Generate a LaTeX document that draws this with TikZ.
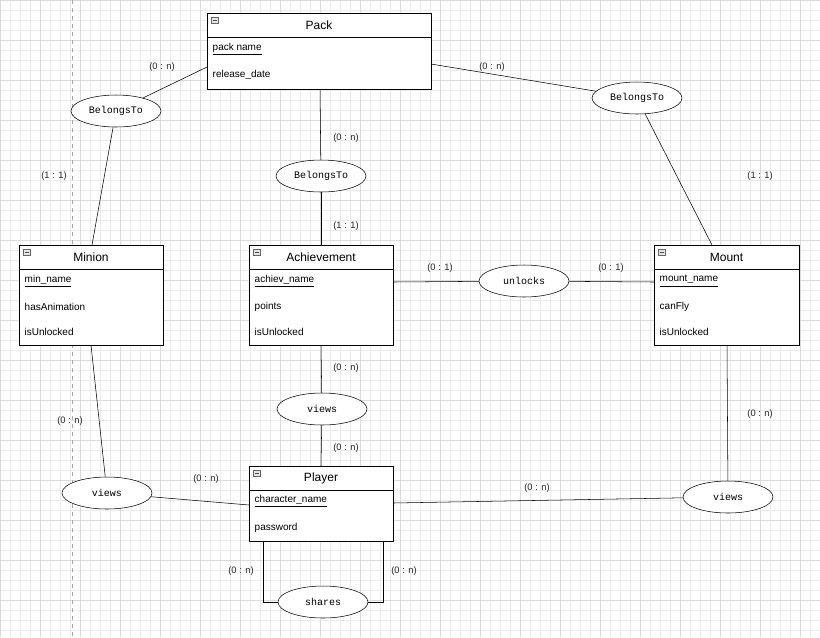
\documentclass[tikz,border=0pt]{standalone}
\usepackage{fontspec}
\setmainfont{Liberation Sans}
\newfontfamily\erdmono{Liberation Mono}
\usetikzlibrary{shapes.geometric}
\begin{document}
\begin{tikzpicture}[x=0.75pt,y=-0.75pt,
  rel/.style={ellipse,draw,thin,fill=white,minimum width=67.5pt,minimum height=24pt,inner sep=0pt,font=\erdmono\fontsize{7.5}{8}\selectfont},
  card/.style={font=\fontsize{7}{8}\selectfont,text=black!85},
  attr/.style={anchor=west,font=\fontsize{7.5}{9}\selectfont},
  link/.style={draw,thin}]
% background
\fill[white] (0,0) rectangle (820,637);
\useasboundingbox (0,0) rectangle (820,637);
\foreach \x in {0,10,...,820} \draw[black!8,very thin] (\x,0) -- (\x,637);
\foreach \y in {0,10,...,630} \draw[black!8,very thin] (0,\y) -- (820,\y);
\foreach \x in {0,40,...,820} \draw[black!14,very thin] (\x,0) -- (\x,637);
\foreach \y in {0,40,...,630} \draw[black!14,very thin] (0,\y) -- (820,\y);
\draw[black!35,dashed] (72,0) -- (72,637);
% entity macro: name, left, top, right, bottom, title
\newcommand{\erdent}[6]{%
  \draw[fill=white,thin] (#2,#3) rectangle (#4,#5);
  \node[draw=none,inner sep=0pt,minimum width=#4pt-#2pt] (#1) at ({(#2+#4)/2},{(#3+#5)/2}) {};
  \draw[thin] (#2,#3+24) -- (#4,#3+24);
  \draw[black!60,fill=black!10,very thin] (#2+4,#3+4) rectangle (#2+11,#3+10);
  \draw[black!70] (#2+5.5,#3+7) -- (#2+9.5,#3+7);
  \node[font=\fontsize{9}{10}\selectfont] (#1-t) at ({(#2+#4)/2},#3+12) {#6};}
% entities
\erdent{pack}{207}{13}{431}{89}{Pack}
\node[attr] (pack-a) at (208,49) {\underline{pack name}};
\node[attr] (pack-b) at (208,75) {release\_date};
\erdent{minion}{19}{245}{163}{345}{Minion}
\node[attr] (min-a) at (20,281) {\underline{min\_name}};
\node[attr] (min-b) at (20,307) {hasAnimation};
\node[attr] (min-c) at (20,332) {isUnlocked};
\erdent{ach}{249}{245}{393}{345}{Achievement}
\node[attr] (ach-a) at (250,281) {\underline{achiev\_name}};
\node[attr] (ach-b) at (250,307) {points};
\node[attr] (ach-c) at (250,332) {isUnlocked};
\erdent{mount}{654}{245}{799}{345}{Mount}
\node[attr] (mnt-a) at (655,281) {\underline{mount\_name}};
\node[attr] (mnt-b) at (655,307) {canFly};
\node[attr] (mnt-c) at (655,332) {isUnlocked};
% relationships
\node[rel] (bl) at (116,111) {BelongsTo};
\node[rel] (bm) at (321,176) {BelongsTo};
\node[rel] (br) at (637,98) {BelongsTo};
\node[rel] (unl) at (524,281) {unlocks};
\node[rel] (vm) at (322,409) {views};
\node[rel] (vl) at (107,493) {views};
\node[rel] (vr) at (728,497) {views};
\node[rel] (sh) at (323,602) {shares};
% connectors
\begin{scope}[on background layer/.style={}]
\coordinate (packL) at (207,67);
\coordinate (packR) at (431,64);
\coordinate (packB) at (320,89);
\coordinate (minT) at (92,245);
\coordinate (minB) at (91,345);
\coordinate (achT) at (321,245);
\coordinate (achR) at (393,282);
\coordinate (achB) at (321,345);
\coordinate (mntT) at (712,245);
\coordinate (mntL) at (654,282);
\coordinate (mntB) at (727,345);
\coordinate (plT) at (321,466);
\coordinate (plL) at (249,505);
\coordinate (plR) at (393,503);
\coordinate (plBL) at (263,541);
\coordinate (plBR) at (383,541);
\end{scope}
\draw[link] (bl) -- (packL);
\draw[link] (bl) -- (minT);
\draw[link] (packR) -- (br);
\draw[link] (br) -- (mntT);
\draw[link] (packB) -- (bm);
\draw[link] (bm) -- (achT);
\draw[link] (achR) -- (unl);
\draw[link] (unl) -- (mntL);
\draw[link] (achB) -- (vm);
\draw[link] (vm) -- (plT);
\draw[link] (minB) -- (vl);
\draw[link] (vl) -- (plL);
\draw[link] (plR) -- (vr);
\draw[link] (vr) -- (mntB);
\draw[link] (plBL) |- (sh.west);
\draw[link] (plBR) |- (sh.east);
% player drawn last over links
\erdent{player}{249}{466}{393}{541}{Player}
\node[attr] (pl-a) at (250,501) {\underline{character\_name}};
\node[attr] (pl-b) at (250,528) {password};
% cardinalities
\node[card] (c1) at (162,67) {(0 : n)};
\node[card] (c2) at (54,176) {(1 : 1)};
\node[card] (c3) at (492,67) {(0 : n)};
\node[card] (c4) at (760,176) {(1 : 1)};
\node[card] (c5) at (346,138) {(0 : n)};
\node[card] (c6) at (346,226) {(1 : 1)};
\node[card] (c7) at (440,268) {(0 : 1)};
\node[card] (c8) at (611,268) {(0 : 1)};
\node[card] (c9) at (346,368) {(0 : n)};
\node[card] (c10) at (346,448) {(0 : n)};
\node[card] (c11) at (70,421) {(0 : n)};
\node[card] (c12) at (206,479) {(0 : n)};
\node[card] (c13) at (537,488) {(0 : n)};
\node[card] (c14) at (760,414) {(0 : n)};
\node[card] (c15) at (241,571) {(0 : n)};
\node[card] (c16) at (404,571) {(0 : n)};
\end{tikzpicture}
\end{document}
